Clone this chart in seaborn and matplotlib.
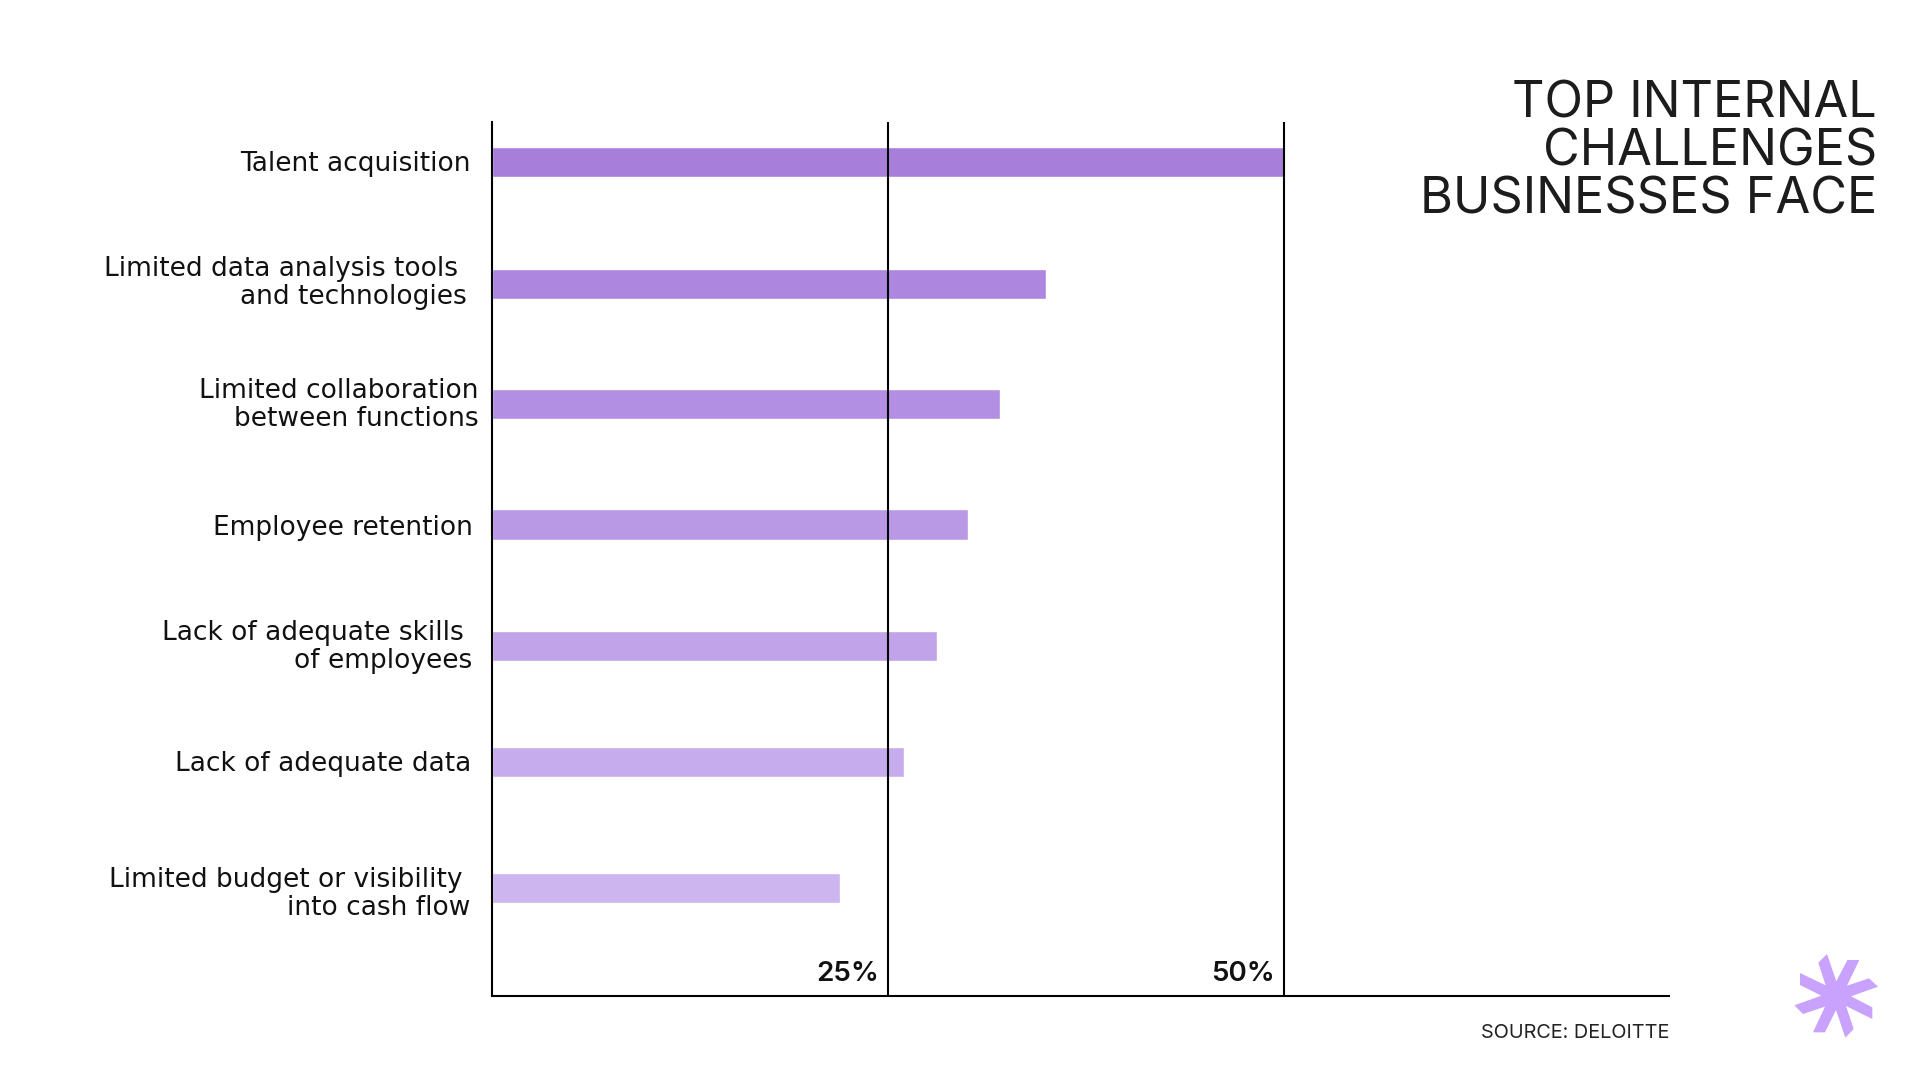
"""Top internal challenges businesses face, horizontal bars."""

import matplotlib.pyplot as plt
import pandas as pd
import seaborn as sns
from matplotlib.patches import Polygon
from matplotlib.transforms import ScaledTranslation, blended_transform_factory

CATEGORIES = [
    "Talent acquisition",
    "Limited data analysis tools \nand technologies",
    "Limited collaboration\nbetween functions",
    "Employee retention",
    "Lack of adequate skills \nof employees",
    "Lack of adequate data",
    "Limited budget or visibility \ninto cash flow",
]
VALUES = [50, 35, 32.1, 30.1, 28.1, 26, 22]
COLORS = ["#A77FDB", "#AD87DF", "#B28FE2", "#B999E6", "#C0A3E9", "#C6ACEC", "#CDB5F0"]
GRID_VALUES = [25, 50]
TITLE = "TOP INTERNAL\nCHALLENGES\nBUSINESSES FACE"
SOURCE = "SOURCE: DELOITTE"
LOGO = [
    (231, 102), (259, 184), (292, 120), (328, 120), (291, 197), (357, 175),
    (384, 200), (303, 229), (367, 262), (367, 297), (288, 258), (311, 327),
    (286, 353), (258, 270), (225, 337), (189, 337), (225, 260), (159, 282),
    (133, 256), (214, 227), (150, 195), (150, 159), (227, 196), (205, 128),
]

W, H = 1920, 1080
sns.set_theme(style="white")
plt.rcParams["font.family"] = ["Inter", "DejaVu Sans"]

df = pd.DataFrame({"challenge": CATEGORIES, "share": VALUES})

fig = plt.figure(figsize=(W / 100, H / 100), dpi=100, facecolor="white")
ax = fig.add_axes([492 / W, 1 - 995.5 / H, (1669 - 492) / W, (995.5 - 122) / H])
sns.barplot(
    data=df, x="share", y="challenge", hue="challenge", palette=COLORS,
    width=0.25, legend=False, saturation=1, ax=ax, zorder=2,
)
ax.set_xlim(0, 74.35)
ax.set_ylim(6.89, -0.34)
ax.set_xlabel("")
ax.set_ylabel("")
ax.set_xticks([])

# the bars are not evenly spaced in the original, nudge in px
bar_dy = [-1, 0, -1, -1, 0, -5, 0]
for bar, dy in zip(ax.patches, bar_dy):
    bar.set_y(bar.get_y() + dy / 120.8)

# same for the labels, which are not quite aligned either
label_dx = [1, -3, 9, 3, 2, 1, 1]
label_dy = [-2, -5, -4, -1, -3, -6, 2]
ax.tick_params(axis="y", length=0, pad=16, labelsize=19, labelcolor="#111111")
for lab, dx, dy in zip(ax.get_yticklabels(), label_dx, label_dy):
    lab.set_family(["DejaVu Sans"])
    lab.set_multialignment("right")
    lab.set_linespacing(1.1)
    lab.set_transform(lab.get_transform() + ScaledTranslation(dx / 100, -dy / 100, fig.dpi_scale_trans))

for spine in ["top", "right"]:
    ax.spines[spine].set_visible(False)
for spine in ["left", "bottom"]:
    ax.spines[spine].set_color("black")
    ax.spines[spine].set_linewidth(1.5)

trans = blended_transform_factory(ax.transData, ax.transAxes)
for val in GRID_VALUES:
    ax.axvline(val, color="black", lw=1.5, zorder=3)
    ax.annotate(
        f"{val}%", (val, 0), xycoords=trans, xytext=(-6, 6), textcoords="offset points",
        ha="right", va="bottom", fontsize=20, fontweight="semibold", color="#111111",
    )

fig.text(1877 / W, 1 - 152 / H, TITLE, ha="right", va="center", fontsize=36.3, fontweight="normal",
         color="#1c1c1c", linespacing=1.03)
fig.text(1669 / W, 1 - 1033 / H, SOURCE, ha="right", va="center", fontsize=14.3, color="#222222")

logo_xy = [((1750 + x / 3) / W, 1 - (920 + y / 3) / H) for x, y in LOGO]
fig.patches.append(Polygon(logo_xy, closed=True, facecolor="#C8A2FC", edgecolor="none",
                           transform=fig.transFigure))

fig.savefig("out.png", dpi=100)
